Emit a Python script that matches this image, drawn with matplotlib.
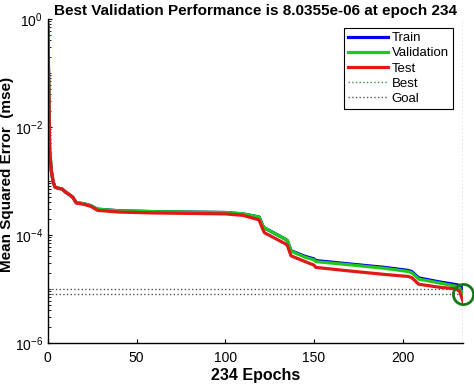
import numpy as np
import matplotlib
matplotlib.use("Agg")
import matplotlib.pyplot as plt
from matplotlib.ticker import LogLocator, FixedLocator, NullFormatter
from matplotlib.lines import Line2D

plt.rcParams['font.family'] = ['Liberation Sans', 'DejaVu Sans']
plt.rcParams['mathtext.default'] = 'regular'

# breakpoints of the curves (epoch, mse)
epochs = [0, 1, 2, 3, 4, 6, 8, 10, 12, 14, 16, 20, 24, 28, 40, 60, 80, 100, 110,
          119, 121, 122, 134, 135, 137, 145, 150, 151, 170, 190, 203, 205, 209,
          220, 230, 232, 234]

train = [0.78, 3.6e-3, 1.5e-3, 9.5e-4, 7.7e-4, 7.3e-4, 7.1e-4, 6.2e-4, 5.6e-4, 5.0e-4,
         3.95e-4, 3.8e-4, 3.5e-4, 3.0e-4, 2.8e-4, 2.7e-4, 2.65e-4, 2.6e-4, 2.45e-4,
         2.15e-4, 1.5e-4, 1.35e-4, 8.3e-5, 7.8e-5, 5.1e-5, 4.0e-5, 3.6e-5, 3.35e-5,
         2.9e-5, 2.5e-5, 2.2e-5, 2.1e-5, 1.6e-5, 1.36e-5, 1.2e-5, 1.16e-5, 1.0e-5]

validation = [0.78, 3.6e-3, 1.5e-3, 9.5e-4, 7.7e-4, 7.3e-4, 7.1e-4, 6.2e-4, 5.6e-4, 5.0e-4,
              3.95e-4, 3.8e-4, 3.5e-4, 3.0e-4, 2.8e-4, 2.7e-4, 2.65e-4, 2.6e-4, 2.45e-4,
              2.15e-4, 1.5e-4, 1.35e-4, 8.3e-5, 7.8e-5, 5.0e-5, 3.85e-5, 3.45e-5, 3.2e-5,
              2.8e-5, 2.4e-5, 2.1e-5, 2.0e-5, 1.52e-5, 1.3e-5, 1.12e-5, 1.05e-5, 8.0355e-6]

test = [0.78, 3.6e-3, 1.5e-3, 9.5e-4, 7.7e-4, 7.3e-4, 7.1e-4, 6.2e-4, 5.6e-4, 5.0e-4,
        3.9e-4, 3.7e-4, 3.4e-4, 2.85e-4, 2.65e-4, 2.55e-4, 2.5e-4, 2.45e-4, 2.3e-4,
        1.9e-4, 1.3e-4, 1.1e-4, 6.8e-5, 6.3e-5, 4.1e-5, 3.2e-5, 2.75e-5, 2.5e-5,
        2.15e-5, 1.85e-5, 1.7e-5, 1.62e-5, 1.22e-5, 1.08e-5, 1.0e-5, 9.0e-6, 5.8e-6]

best_epoch = 234
best_perf = 8.0355e-6
goal = 1e-5

fig = plt.figure(figsize=(4.74, 3.87), dpi=100)
ax = fig.add_axes([0.101, 0.114, 0.876, 0.837])

ax.plot(epochs, train, color='#0000e6', lw=2.3, label='Train')
ax.plot(epochs, validation, color='#1ec81e', lw=2.3, label='Validation')
ax.plot(epochs, test, color='#e01818', lw=2.3, label='Test')

ax.axvline(best_epoch, color='#3f8a4f', ls=':', lw=1.0)
ax.axhline(best_perf, color='#555555', ls=':', lw=1.0)
ax.axhline(goal, color='#555555', ls=':', lw=1.0)
ax.plot([best_epoch], [best_perf], 'o', mfc='none', mec='#127a12', ms=14.5, mew=2,
        clip_on=False)

ax.set_yscale('log')
ax.set_xlim(0, 234)
ax.set_ylim(1e-6, 1e0)
ax.xaxis.set_major_locator(FixedLocator([0, 50, 100, 150, 200]))
ax.yaxis.set_major_locator(FixedLocator([1e-6, 1e-4, 1e-2, 1e0]))
ax.yaxis.set_minor_locator(LogLocator(base=10, subs=np.arange(1, 10), numticks=20))
ax.yaxis.set_minor_formatter(NullFormatter())
ax.tick_params(direction='in', labelsize=10, length=3, width=0.8)
ax.tick_params(which='minor', direction='in', length=2, width=0.6)
ax.tick_params(axis='x', which='minor', bottom=False)
ax.tick_params(axis='x', pad=6)
for s in ['top', 'right']:
    ax.spines[s].set_visible(False)
for s in ['left', 'bottom']:
    ax.spines[s].set_linewidth(1.0)

ax.set_title('Best Validation Performance is 8.0355e-06 at epoch 234',
             fontsize=11, fontweight='bold', pad=3)
ax.set_xlabel('234 Epochs', fontsize=11.5, fontweight='bold', labelpad=2)
ax.set_ylabel('Mean Squared Error  (mse)', fontsize=11, fontweight='bold')
ax.yaxis.set_label_coords(-0.082, 0.52)

handles = [Line2D([], [], color='#0000e6', lw=2.3),
           Line2D([], [], color='#1ec81e', lw=2.3),
           Line2D([], [], color='#e01818', lw=2.3),
           Line2D([], [], color='#3f8a4f', ls=':', lw=1.0),
           Line2D([], [], color='#555555', ls=':', lw=1.0)]
leg = ax.legend(handles, ['Train', 'Validation', 'Test', 'Best', 'Goal'],
                loc='upper right', bbox_to_anchor=(0.975, 0.972), fontsize=9.5,
                fancybox=False, framealpha=1, edgecolor='black',
                handlelength=3.0, handletextpad=0.3, labelspacing=0.22,
                borderpad=0.3, borderaxespad=0)
leg.get_frame().set_linewidth(0.8)

fig.savefig('out.png', dpi=100)
